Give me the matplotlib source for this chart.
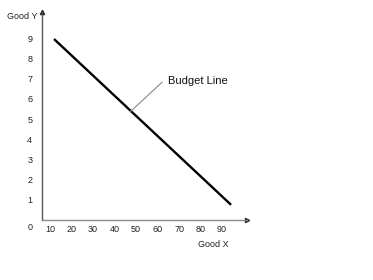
import matplotlib
matplotlib.use("Agg")
import matplotlib.pyplot as plt

plt.rcParams['font.family'] = ['Liberation Sans', 'DejaVu Sans']

# Data
x_ticks = [10, 20, 30, 40, 50, 60, 70, 80, 90]
y_ticks = [1, 2, 3, 4, 5, 6, 7, 8, 9]
budget_x = [11.9, 94.2]
budget_y = [8.96, 0.75]
x_label = "Good X"
y_label = "Good Y"
line_label = "Budget Line"

W, H = 373, 280
fig = plt.figure(figsize=(W / 100, H / 100), dpi=100)
# axes: left spine at px 42, bottom at px 220, right end px 247, top px 12
ax = fig.add_axes([42 / W, (H - 220) / H, (247 - 42) / W, (220 - 12) / H])
ax.set_xlim(6.3, 101.6)
ax.set_ylim(0, 10.3)

for s in ['top', 'right']:
    ax.spines[s].set_visible(False)
ax.spines['left'].set_color('#555555')
ax.spines['bottom'].set_color('#8a8a8a')
ax.spines['left'].set_linewidth(1.0)
ax.spines['bottom'].set_linewidth(1.0)

ax.set_xticks(x_ticks)
ax.set_yticks(y_ticks)
ax.set_xticklabels([str(v) for v in x_ticks])
ax.set_yticklabels([str(v) for v in y_ticks])
ax.tick_params(axis='x', length=0, pad=3.5, labelsize=6.5, colors='#222222')
ax.tick_params(axis='y', length=0, pad=7, labelsize=6.5, colors='#222222')

# arrow heads
ax.plot([101.6], [0], marker='>', markersize=3, color='#222222', clip_on=False)
ax.plot([6.3], [10.3], marker='^', markersize=3, color='#222222', clip_on=False)

# origin label
ax.text(0.7, -0.35, "0", fontsize=6.5, ha='center', va='center', color='#222222', clip_on=False)

# axis labels
ax.text(4.0, 10.1, y_label, fontsize=6.5, ha='right', va='center', color='#222222', clip_on=False)
ax.text(86, -1.2, x_label, fontsize=6.5, ha='center', va='center', color='#222222', clip_on=False)

# budget line
ax.plot(budget_x, budget_y, color='black', linewidth=1.7, solid_capstyle='butt')

# pointer and label
ax.plot([62.1, 47.2], [6.82, 5.35], color='#888888', linewidth=0.8)
ax.text(64.9, 6.87, line_label, fontsize=8, ha='left', va='center', color='#111111')

fig.savefig("out.png", dpi=100)
